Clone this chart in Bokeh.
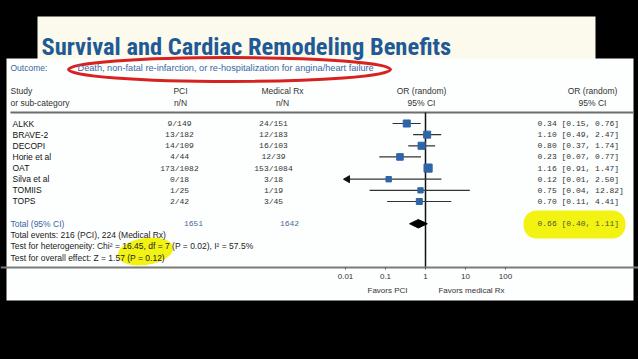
import numpy as np
from bokeh.plotting import figure
from bokeh.models import (Range1d, ColumnDataSource, LabelSet, Label, BoxAnnotation,
                          LogAxis, FixedTicker, CustomJSTickFormatter)
from bokeh.core.properties import value
from bokeh.embed import file_html
from bokeh.resources import INLINE

# ---------------- data ----------------
studies = ["ALKK", "BRAVE-2", "DECOPI", "Horie et al", "OAT", "Silva et al", "TOMIIS", "TOPS"]
pci_n = [9, 13, 14, 4, 173, 0, 1, 2]
pci_N = [149, 182, 109, 44, 1082, 18, 25, 42]
med_n = [24, 12, 16, 12, 153, 3, 1, 3]
med_N = [151, 183, 103, 39, 1084, 18, 19, 45]
odds = [0.34, 1.10, 0.80, 0.23, 1.16, 0.12, 0.75, 0.70]
ci_lo = [0.15, 0.49, 0.37, 0.07, 0.91, 0.01, 0.04, 0.11]
ci_hi = [0.76, 2.47, 1.74, 0.77, 1.47, 2.50, 12.82, 4.41]
weights = [14.5, 14.0, 15.0, 10.5, 26.0, 3.5, 3.0, 6.5]
total_or, total_lo, total_hi = 0.66, 0.40, 1.11
total_pci, total_med = 1651, 1642
tick_vals = [0.01, 0.1, 1, 10, 100]
tick_labels = ["0.01", "0.1", "1", "10", "100"]

title_text = "Survival and Cardiac Remodeling Benefits"
outcome_text = "Death, non-fatal re-infarction, or re-hospitalization for angina/heart failure"
events_text = "Total events: 216 (PCI), 224 (Medical Rx)"
het_text = "Test for heterogeneity: Chi\u00b2 = 16.45, df = 7 (P = 0.02), I\u00b2 = 57.5%"
overall_text = "Test for overall effect: Z = 1.57 (P = 0.12)"

# ---------------- geometry helpers (window px -> data) ----------------
W, H = 638, 359
ROW = 11.14


def X(px):
    return 10 ** ((px - 425) / 40.0)


def Y(py):
    return (py - 123) / ROW


p = figure(width=W, height=H, x_axis_type="log", x_axis_location=None, y_axis_location=None,
           x_range=Range1d(X(0), X(W)), y_range=Range1d(Y(H), Y(0)),
           output_backend="svg", toolbar_location=None, min_border=0,
           background_fill_color="#000000", border_fill_color="#000000",
           outline_line_color=None)
p.xgrid.visible = False
p.ygrid.visible = False
p.grid.grid_line_color = None

# panels
p.add_layout(BoxAnnotation(left=X(37), right=X(595), top=Y(16), bottom=Y(70),
                           fill_color="#fbfaec", fill_alpha=1, line_color=None, level="underlay"))
p.add_layout(BoxAnnotation(left=X(6), right=X(633), top=Y(58), bottom=Y(300),
                           fill_color="#fdfefe", fill_alpha=1, line_color=None, level="underlay"))
# yellow highlight (right)
p.add_layout(BoxAnnotation(left=X(523), right=X(625), top=Y(210), bottom=Y(238),
                           fill_color="#f2f213", fill_alpha=1, line_color=None,
                           border_radius=13, level="underlay"))

SANS = "Liberation Sans"
MONO = "Liberation Mono"

# title
p.add_layout(Label(x=X(41), y=Y(46), text=title_text, text_baseline="alphabetic",
                   text_font="Liberation Sans Narrow, Roboto Condensed, Liberation Sans",
                   text_font_style="bold", text_font_size="24.5px", text_color="#1f5a96"))

# yellow highlight (left) and red ellipse
p.ellipse(x=[X(145)], y=[Y(251)], width=56, height=27, width_units="screen", height_units="screen",
          angle=0.15, fill_color="#f2f213", line_color=None)
p.ellipse(x=[X(229)], y=[Y(69)], width=322, height=24, width_units="screen", height_units="screen",
          fill_color=None, line_color="#d8221f", line_width=3)

# outcome line
p.add_layout(Label(x=X(10), y=Y(67), text="Outcome:", text_baseline="middle",
                   text_font=SANS, text_font_size="8.5px", text_color="#3a67a2"))
p.add_layout(Label(x=X(77), y=Y(67), text=outcome_text, text_baseline="middle",
                   text_font=SANS, text_font_size="9.2px", text_color="#3a67a2"))

# headers
hdr = dict(text_baseline="middle", text_font=SANS, text_font_size="8.5px", text_color="#333333")
p.add_layout(Label(x=X(10), y=Y(90), text="Study", **hdr))
p.add_layout(Label(x=X(10), y=Y(102), text="or sub-category", **hdr))
for cx, t1, t2 in [(180, "PCI", "n/N"), (282, "Medical Rx", "n/N"),
                   (421, "OR (random)", "95% CI"), (592, "OR (random)", "95% CI")]:
    p.add_layout(Label(x=X(cx), y=Y(90), text=t1, text_align="center", **hdr))
    p.add_layout(Label(x=X(cx), y=Y(102), text=t2, text_align="center", **hdr))

# header rule
p.segment(x0=[X(10)], y0=[Y(112)], x1=[X(633)], y1=[Y(112)], line_color="#6d6d6d", line_width=2)

# rows
rows = np.arange(len(studies))
src = ColumnDataSource(dict(
    row=rows, study=studies,
    pci=[f"{a}/{b}" for a, b in zip(pci_n, pci_N)],
    med=[f"{a}/{b}" for a, b in zip(med_n, med_N)],
    ci=[f"{o:.2f} [{l:.2f}, {h:5.2f}]" for o, l, h in zip(odds, ci_lo, ci_hi)],
    odds=odds, lo=ci_lo, hi=ci_hi,
    size=[3.8 + 0.85 * np.sqrt(w) for w in weights],
))

p.add_layout(LabelSet(source=src, x=X(12), y="row", text="study", text_baseline="middle",
                      text_font=value(SANS), text_font_size="8.5px", text_color="#111111"))
p.add_layout(LabelSet(source=src, x=X(179), y="row", text="pci", text_baseline="middle",
                      text_align="center", text_font=value(MONO), text_font_size="8px",
                      text_color="#333333"))
p.add_layout(LabelSet(source=src, x=X(273), y="row", text="med", text_baseline="middle",
                      text_align="center", text_font=value(MONO), text_font_size="8px",
                      text_color="#333333"))
p.add_layout(LabelSet(source=src, x=X(537), y="row", text="ci", text_baseline="middle",
                      text_font=value(MONO), text_font_size="8px", text_color="#333333"))

# vertical line of no effect
p.segment(x0=[1], y0=[Y(112)], x1=[1], y1=[Y(267)], line_color="#111111", line_width=1.5)

# CIs and squares
p.segment(x0="lo", y0="row", x1="hi", y1="row", source=src, line_color="#333333", line_width=1.2)
p.scatter(x="odds", y="row", size="size", marker="square", source=src,
          fill_color="#2f65a7", line_color="#2f65a7")
arrow_rows = [r for r, l in zip(rows, ci_lo) if l <= tick_vals[0]]
p.scatter(x=[X(347)] * len(arrow_rows), y=arrow_rows, marker="triangle", angle=np.pi / 2,
          size=7, fill_color="#111111", line_color="#111111")

# total row
trow = len(studies) + 1
p.patch(x=[total_lo, total_or, total_hi, total_or], y=[trow, trow - 0.38, trow, trow + 0.38],
        fill_color="#000000", line_color="#000000")
p.add_layout(Label(x=X(10), y=trow, text="Total (95% CI)", text_baseline="middle",
                   text_font=SANS, text_font_size="8.5px", text_color="#3a64a0"))
p.add_layout(Label(x=X(193), y=trow, text=str(total_pci), text_baseline="middle", text_align="center",
                   text_font=MONO, text_font_size="8px", text_color="#4a6a9a"))
p.add_layout(Label(x=X(289), y=trow, text=str(total_med), text_baseline="middle", text_align="center",
                   text_font=MONO, text_font_size="8px", text_color="#4a6a9a"))
p.add_layout(Label(x=X(537), y=trow, text=f"{total_or:.2f} [{total_lo:.2f}, {total_hi:5.2f}]",
                   text_baseline="middle", text_font=MONO, text_font_size="8px", text_color="#4f5a2a"))

ft = dict(text_baseline="middle", text_font=SANS, text_font_size="8.5px", text_color="#222222")
p.add_layout(Label(x=X(10), y=Y(234), text=events_text, **ft))
p.add_layout(Label(x=X(10), y=Y(245), text=het_text, **ft))
p.add_layout(Label(x=X(10), y=Y(257), text=overall_text, **ft))

# x axis at a fixed location inside the panel
ax = LogAxis(fixed_location=Y(267), ticker=FixedTicker(ticks=tick_vals),
             formatter=CustomJSTickFormatter(code="return String(tick)"),
             major_label_overrides=dict(zip(tick_vals, tick_labels)),
             axis_line_color="#7a7a7a", axis_line_width=2,
             major_tick_line_color="#555555", major_tick_out=2, major_tick_in=0,
             minor_tick_line_color=None, major_label_standoff=4,
             major_label_text_font=SANS, major_label_text_font_size="8px",
             major_label_text_color="#333333")
p.add_layout(ax, "below")

p.add_layout(Label(x=X(387), y=Y(290), text="Favors PCI", text_baseline="middle", text_align="center",
                   text_font=SANS, text_font_size="8px", text_color="#333333"))
p.add_layout(Label(x=X(471), y=Y(290), text="Favors medical Rx", text_baseline="middle",
                   text_align="center", text_font=SANS, text_font_size="8px", text_color="#333333"))

html = file_html(p, INLINE)
style = "<style>html,body{margin:0;padding:0;overflow:hidden;background-color:#000000;}</style>"
html = html.replace("</head>", style + "</head>", 1)
html = html.replace("<body>", '<body style="margin:0;background-color:#000000;">', 1)
open("out.html", "w").write(html)
